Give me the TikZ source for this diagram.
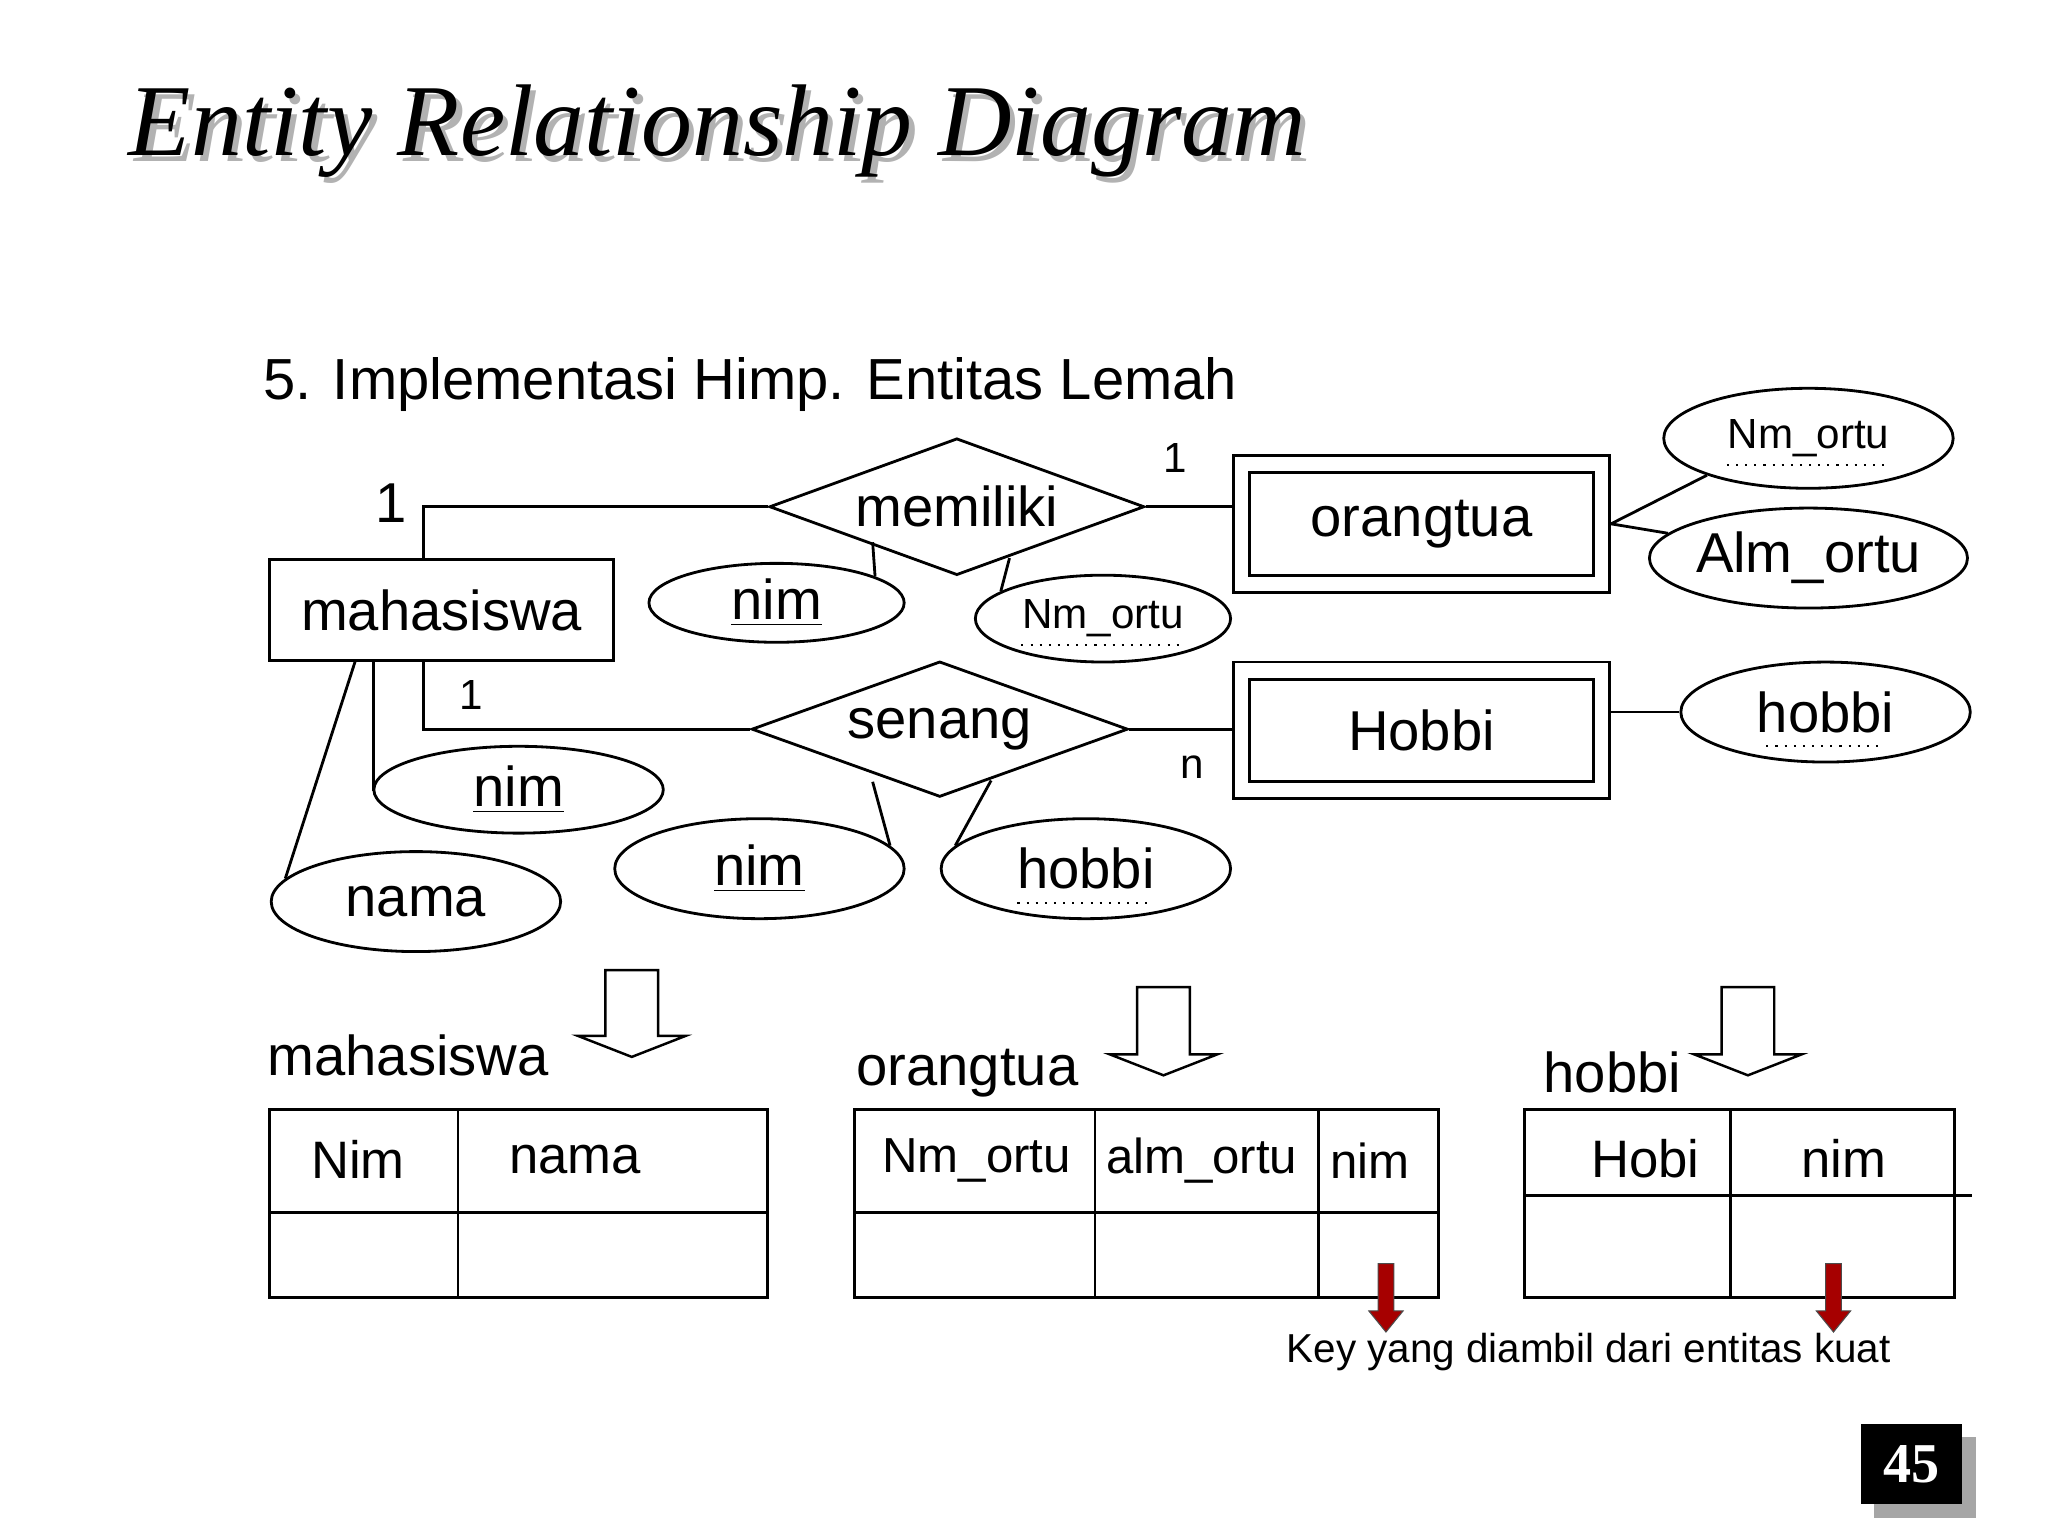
\documentclass[tikz,border=0pt]{standalone}
\usepackage{fontspec}
\setmainfont{Liberation Sans}
\newfontfamily\titlefont{Liberation Serif}
\usetikzlibrary{shapes.geometric,arrows.meta,calc}
\begin{document}
\begin{tikzpicture}[x=0.013162cm,y=-0.013162cm,line width=0.8pt,
  sz/.style 2 args={minimum width=#1*0.3745pt,minimum height=#2*0.3745pt},
  att/.style={draw,ellipse,inner sep=0pt},
  rel/.style={draw,diamond,aspect=2.75,inner sep=0pt},
  txt/.style={font=\fontsize{16}{18}\selectfont},
  small/.style={font=\fontsize{12}{14}\selectfont},
  dul/.style={dotted,line width=0.6pt},
  hollow/.style={draw,line width=0.7pt,fill=white},
  redarr/.style={draw=black!70,fill=red!65!black,line width=0.3pt}]
\useasboundingbox (0,0) rectangle (1556,1168);
% title
\node[anchor=west,text=gray!60] at (92,104) {\titlefont\itshape\fontsize{29}{33}\selectfont Entity Relationship Diagram};
\node[anchor=west] (title) at (88,100) {\titlefont\itshape\fontsize{29}{33}\selectfont Entity Relationship Diagram};
\node[anchor=west,font=\fontsize{16.5}{19}\selectfont] (sub) at (190,292) {5. Implementasi Himp. Entitas Lemah};
% entities
\node[draw,sz={261}{77},txt] (mhs) at (335.5,463.5) {mahasiswa};
\node[draw,sz={286}{104}] (ot) at (1080,398) {};
\node[draw,sz={262}{78},txt] (oti) at (1080,398) {orangtua};
\node[draw,sz={286}{104}] (hb) at (1080,555) {};
\node[draw,sz={262}{78},txt] (hbi) at (1080,555) {Hobbi};
% relationships
\node[rel,sz={285}{104},txt] (mem) at (727,385) {memiliki};
\node[rel,sz={286}{103},txt] (sen) at (714,554) {senang};
% attributes
\node[att,sz={220}{76},small] (anm) at (1374,333) {Nm\_ortu};
\node[att,sz={220}{76},txt] (aal) at (1374,424) {Alm\_ortu};
\node[att,sz={194}{60},txt] (anim1) at (590,458) {\underline{nim}};
\node[att,sz={194}{66},small] (anm2) at (838,470) {Nm\_ortu};
\node[att,sz={220}{76},txt] (ahb) at (1387,541) {hobbi};
\node[att,sz={220}{66},txt] (anim2) at (394,600) {\underline{nim}};
\node[att,sz={220}{76},txt] (anama) at (316,685) {nama};
\node[att,sz={220}{76},txt] (anim3) at (577,660) {\underline{nim}};
\node[att,sz={220}{76},txt] (ahb2) at (825,660) {hobbi};
% dotted underlines (partial keys)
\draw[dul] ($(anm.center)+(-62,20)$) -- ($(anm.center)+(62,20)$);
\draw[dul] ($(anm2.center)+(-62,20)$) -- ($(anm2.center)+(62,20)$);
\draw[dul] ($(ahb.center)+(-45,26)$) -- ($(ahb.center)+(45,26)$);
\draw[dul] ($(ahb2.center)+(-52,26)$) -- ($(ahb2.center)+(52,26)$);
% connectors
\draw (322,425) |- (mem.west);
\draw (mem.east) -- (mem.east -| ot.west);
\draw (322,502) |- (sen.west);
\draw (sen.east) -- (sen.east -| hb.west);
\draw (ot.east) -- (anm.200);
\draw (ot.east) -- (aal.170);
\draw (hb.east |- ahb.west) -- (ahb.west);
\draw (anim1.15) -- (663,412);
\draw (anm2.165) -- (767,424);
\draw (284,502) |- (anim2.west);
\draw (270,502) -- (anama.170);
\draw (anim3.10) -- (663,594);
\draw (ahb2.170) -- (753,593);
% labels
\node[txt] (l1) at (297,382) {1};
\node[small] (l2) at (893,348) {1};
\node[small] (l3) at (358,528) {1};
\node[small] (l4) at (906,583) {n};
% hollow arrows
\foreach \cx/\ty/\tp in {480/737/803,884/750/817,1328/750/817}{
  \draw[hollow] (\cx-20,\ty) -- (\cx+20,\ty) -- (\cx+20,\tp-16) -- (\cx+41,\tp-16) -- (\cx,\tp) -- (\cx-41,\tp-16) -- (\cx-20,\tp-16) -- cycle;}
% tables
\node[txt] (t1) at (310,802) {mahasiswa};
\node[txt] (t2) at (735,815) {orangtua};
\node[txt] (t3) at (1225,815) {hobbi};
\draw (205,843) rectangle (583,986); \draw (348,843) -- (348,986); \draw (205,921) -- (583,921);
\node[font=\fontsize{15}{17}\selectfont] at (272,881) {Nim};
\node[font=\fontsize{15}{17}\selectfont] at (437,881) {nama};
\draw (649,843) rectangle (1093,986); \draw (832,843) -- (832,986); \draw (1002,843) -- (1002,986); \draw (649,921) -- (1093,921);
\node[font=\fontsize{14}{17}\selectfont] at (742,882) {Nm\_ortu};
\node[font=\fontsize{14}{17}\selectfont] at (913,882) {alm\_ortu};
\node[font=\fontsize{14}{17}\selectfont] at (1041,882) {nim};
\draw (1158,843) rectangle (1485,986); \draw (1315,843) -- (1315,986); \draw (1158,908) -- (1498,908);
\node[font=\fontsize{15}{17}\selectfont] at (1250,880) {Hobi};
\node[font=\fontsize{15}{17}\selectfont] at (1401,880) {nim};
% red arrows
\foreach \cx in {1053,1393}{
  \draw[redarr] (\cx-6,960) -- (\cx+6,960) -- (\cx+6,996) -- (\cx+13,996) -- (\cx,1012) -- (\cx-13,996) -- (\cx-6,996) -- cycle;}
\node[font=\fontsize{11.5}{13}\selectfont] (key) at (1207,1027) {Key yang diambil dari entitas kuat};
% page number
\fill[gray!70] (1424,1092) rectangle (1501,1153);
\node[fill=black,text=white,sz={77}{61},inner sep=0pt,font=\titlefont\bfseries\fontsize{16}{18}\selectfont] (pg) at (1452.5,1112.5) {45};
\end{tikzpicture}
\end{document}
